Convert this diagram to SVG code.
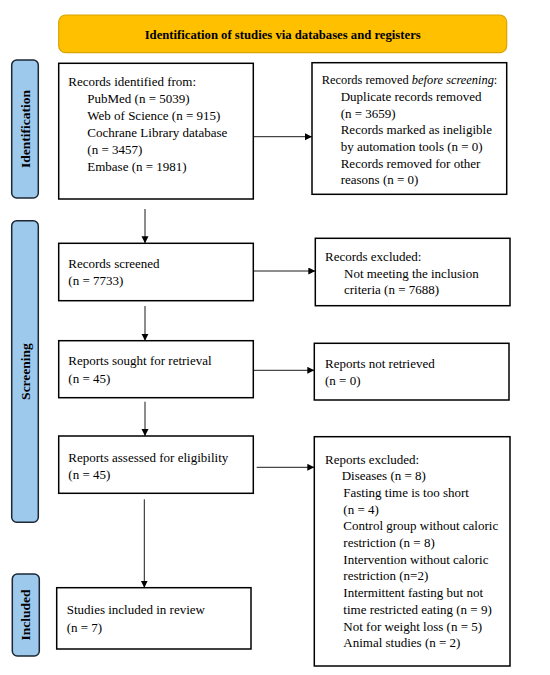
<svg xmlns="http://www.w3.org/2000/svg" width="550" height="675" viewBox="0 0 550 675">
<defs>
<marker id="ah" markerUnits="userSpaceOnUse" markerWidth="8" markerHeight="8" refX="7" refY="3.5" orient="auto">
<path d="M0,0 L7,3.5 L0,7 Z" fill="#000"/>
</marker>
<style>
.box{fill:#fff;stroke:#000;stroke-width:1.5}
.side{fill:#9DC9ED;stroke:#1c2733;stroke-width:1.5}
.hdr{fill:#FFC000;stroke:#D9A300;stroke-width:1.2}
text{font-family:"Liberation Serif","DejaVu Serif",serif;font-size:13px;fill:#000}
.b{font-weight:bold}
.sl{font-weight:bold;font-size:13.5px;text-anchor:middle}
.c{stroke:#000;stroke-width:0.9;fill:none;marker-end:url(#ah)}
</style>
</defs>
<rect width="550" height="675" fill="#fff"/>
<g id="header">
<rect class="hdr" x="58.7" y="15" width="448" height="37.7" rx="7"/>
<text class="b" x="282.7" y="38.5" text-anchor="middle" style="font-size:12.7px">Identification of studies via databases and registers</text>
</g>
<g id="side-identification">
<rect class="side" x="11.7" y="60" width="26.6" height="138" rx="5"/>
<text class="sl" transform="translate(29.8,129) rotate(-90)">Identification</text>
</g>
<g id="side-screening">
<rect class="side" x="11.7" y="220.7" width="26.6" height="301.6" rx="5"/>
<text class="sl" transform="translate(29.8,371.5) rotate(-90)">Screening</text>
</g>
<g id="side-included">
<rect class="side" x="12.3" y="574" width="27" height="82" rx="5"/>
<text class="sl" transform="translate(30.4,615) rotate(-90)">Included</text>
</g>
<g id="records-identified">
<rect class="box" x="58.7" y="63.3" width="194.6" height="135.7"/>
<text x="68.3" y="86">Records identified from:</text>
<text x="87.3" y="103">PubMed (n = 5039)</text>
<text x="87.3" y="120">Web of Science (n = 915)</text>
<text x="87.3" y="137">Cochrane Library database</text>
<text x="87.3" y="154">(n = 3457)</text>
<text x="87.3" y="171">Embase (n = 1981)</text>
</g>
<g id="records-removed">
<rect class="box" x="312" y="62.7" width="194.7" height="131.6"/>
<text x="321.7" y="84.3" style="font-size:12.4px">Records removed <tspan font-style="italic">before screening</tspan>:</text>
<text x="340.7" y="101">Duplicate records removed</text>
<text x="340.7" y="117.7">(n = 3659)</text>
<text x="340.7" y="134.3">Records marked as ineligible</text>
<text x="340.7" y="151">by automation tools (n = 0)</text>
<text x="340.7" y="167.7">Records removed for other</text>
<text x="340.7" y="184.3">reasons (n = 0)</text>
</g>
<g id="records-screened">
<rect class="box" x="58.7" y="243.3" width="194.6" height="57.4"/>
<text x="68.3" y="267.5">Records screened</text>
<text x="68.3" y="285">(n = 7733)</text>
</g>
<g id="records-excluded">
<rect class="box" x="315.3" y="238.3" width="194.7" height="67.4"/>
<text x="325" y="261">Records excluded:</text>
<text x="344" y="277.5">Not meeting the inclusion</text>
<text x="344" y="294">criteria  (n = 7688)</text>
</g>
<g id="reports-sought">
<rect class="box" x="58.7" y="340.7" width="194.6" height="57"/>
<text x="68.3" y="365">Reports sought for retrieval</text>
<text x="68.3" y="382.5">(n = 45)</text>
</g>
<g id="reports-not-retrieved">
<rect class="box" x="314.3" y="343.3" width="194.7" height="56.7"/>
<text x="325" y="367.5">Reports not retrieved</text>
<text x="325" y="385">(n = 0)</text>
</g>
<g id="reports-assessed">
<rect class="box" x="58.7" y="436" width="194.6" height="57.3"/>
<text x="68.3" y="461.5">Reports assessed for eligibility</text>
<text x="68.3" y="479">(n = 45)</text>
</g>
<g id="reports-excluded">
<rect class="box" x="314.3" y="436.7" width="195.7" height="229.3"/>
<text x="325" y="463.5">Reports excluded:</text>
<text x="341.7" y="480.2">Diseases (n = 8)</text>
<text x="343.3" y="496.9">Fasting time is too short</text>
<text x="343.3" y="513.6">(n = 4)</text>
<text x="343.3" y="530.3">Control group without caloric</text>
<text x="343.3" y="547">restriction (n = 8)</text>
<text x="343.3" y="563.7">Intervention without caloric</text>
<text x="343.3" y="580.4">restriction (n=2)</text>
<text x="343.3" y="597.1">Intermittent fasting but not</text>
<text x="343.3" y="613.8">time restricted eating  (n = 9)</text>
<text x="343.3" y="630.5">Not for weight loss (n = 5)</text>
<text x="343.3" y="647.2">Animal studies (n = 2)</text>
</g>
<g id="studies-included">
<rect class="box" x="56.7" y="587.7" width="194.3" height="61.3"/>
<text x="66.7" y="614">Studies included in review</text>
<text x="66.7" y="631.5">(n = 7)</text>
</g>
<g id="connectors">
<line class="c" x1="253.3" y1="136.7" x2="312" y2="136.7"/>
<line class="c" x1="145" y1="209" x2="145" y2="243.3"/>
<line class="c" x1="253.3" y1="271" x2="315.3" y2="271"/>
<line class="c" x1="145" y1="306" x2="145" y2="340.7"/>
<line class="c" x1="253.3" y1="370.3" x2="314.3" y2="370.3"/>
<line class="c" x1="145" y1="401.7" x2="145" y2="436"/>
<line class="c" x1="256.7" y1="467.3" x2="314.3" y2="467.3"/>
<line class="c" x1="144.3" y1="499.3" x2="144.3" y2="587.7"/>
</g>
</svg>
